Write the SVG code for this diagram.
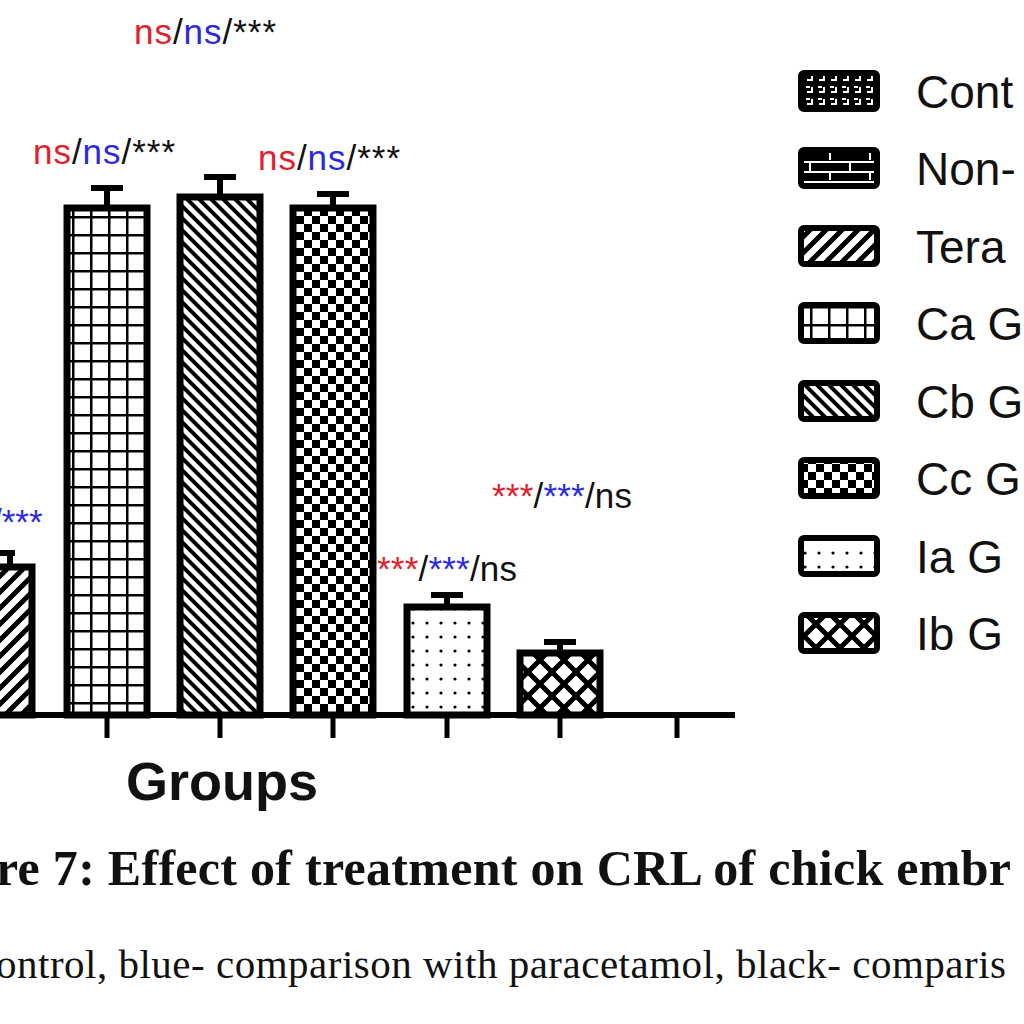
<svg xmlns="http://www.w3.org/2000/svg" width="1024" height="1024" viewBox="0 0 1024 1024">
<style>
.bar{stroke:#000;stroke-width:7}
.eb{stroke:#000;stroke-width:6;fill:none}
.lab{font-family:"Liberation Sans",Arial,sans-serif;font-size:35px}
.r{fill:#e0202a}.b{fill:#2a2ae0}.k{fill:#111}
.leg{font-family:"Liberation Sans",Arial,sans-serif;font-size:46px;fill:#111}
.lb{stroke:#000;stroke-width:6}
</style>
<defs>
<pattern id="grid" width="18" height="18" patternUnits="userSpaceOnUse"><rect width="18" height="18" fill="#fff"/><path d="M0 0H18M0 0V18" stroke="#000" stroke-width="5"/></pattern>
<pattern id="diag" width="12" height="12" patternUnits="userSpaceOnUse"><rect width="12" height="12" fill="#fff"/><path d="M-3 -3L15 15M-3 9L3 15M9 -3L15 3" stroke="#000" stroke-width="4"/></pattern>
<pattern id="check" width="16" height="16" patternUnits="userSpaceOnUse"><rect width="16" height="16" fill="#fff"/><rect width="8" height="8" fill="#000"/><rect x="8" y="8" width="8" height="8" fill="#000"/></pattern>
<pattern id="dots" width="14" height="14" patternUnits="userSpaceOnUse"><rect width="14" height="14" fill="#fff"/><circle cx="7" cy="7" r="1.6" fill="#000"/></pattern>
<pattern id="xx" width="24" height="24" patternUnits="userSpaceOnUse"><rect width="24" height="24" fill="#fff"/><path d="M0 0L24 24M24 0L0 24" stroke="#000" stroke-width="5"/></pattern>
<pattern id="tera" width="16" height="16" patternUnits="userSpaceOnUse"><rect width="16" height="16" fill="#fff"/><path d="M-4 4L4 -4M0 16L16 0M12 20L20 12" stroke="#000" stroke-width="5"/></pattern>
<pattern id="brick" width="40" height="20" patternUnits="userSpaceOnUse"><rect width="40" height="20" fill="#000"/><path d="M0 2H40M0 12H40M10 2V12M30 12V20" stroke="#fff" stroke-width="2"/></pattern>
<pattern id="ctrl" width="12" height="12" patternUnits="userSpaceOnUse"><rect width="12" height="12" fill="#000"/><path d="M2 3H6M8 3V7M3 8H9" stroke="#fff" stroke-width="2"/></pattern>
</defs>
<rect width="1024" height="1024" fill="#fff"/>
<g id="bars">
<rect class="bar" x="-10" y="567" width="42" height="148" fill="url(#tera)"/>
<rect class="bar" x="67" y="208" width="80" height="507" fill="url(#grid)"/>
<rect class="bar" x="180" y="197" width="80" height="518" fill="url(#diag)"/>
<rect class="bar" x="293" y="208" width="80" height="507" fill="url(#check)"/>
<rect class="bar" x="407" y="607" width="80" height="108" fill="url(#dots)"/>
<rect class="bar" x="520" y="653" width="80" height="62" fill="url(#xx)"/>
</g>
<g id="errorbars">
<path class="eb" d="M0 553H15M10 553V567"/>
<path class="eb" d="M91 188H123M107 188V208"/>
<path class="eb" d="M204 177H236M220 177V197"/>
<path class="eb" d="M317 194H349M333 194V208"/>
<path class="eb" d="M431 595H463M447 595V607"/>
<path class="eb" d="M544 642H576M560 642V653"/>
</g>
<g id="axis">
<path d="M0 715H735" stroke="#000" stroke-width="6"/>
<path d="M107 715V738M220 715V738M333 715V738M447 715V738M560 715V738M677 715V738" stroke="#000" stroke-width="5"/>
<text x="222" y="800" text-anchor="middle" font-family="Liberation Sans,Arial,sans-serif" font-weight="bold" font-size="54" fill="#111">Groups</text>
</g>
<g id="labels" class="lab">
<text x="134" y="44" textLength="142"><tspan class="r">ns</tspan><tspan class="k">/</tspan><tspan class="b">ns</tspan><tspan class="k">/***</tspan></text>
<text x="33" y="164" textLength="142"><tspan class="r">ns</tspan><tspan class="k">/</tspan><tspan class="b">ns</tspan><tspan class="k">/***</tspan></text>
<text x="258" y="170" textLength="142"><tspan class="r">ns</tspan><tspan class="k">/</tspan><tspan class="b">ns</tspan><tspan class="k">/***</tspan></text>
<text x="377" y="581" textLength="140"><tspan class="r">***</tspan><tspan class="k">/</tspan><tspan class="b">***</tspan><tspan class="k">/ns</tspan></text>
<text x="492" y="508" textLength="140"><tspan class="r">***</tspan><tspan class="k">/</tspan><tspan class="b">***</tspan><tspan class="k">/ns</tspan></text>
<text x="-8" y="534"><tspan class="b">/***</tspan></text>
</g>
<g id="legend">
<rect class="lb" x="801" y="73" width="76" height="36" rx="3" fill="url(#ctrl)"/><text class="leg" x="916" y="108">Cont</text>
<rect class="lb" x="801" y="150" width="76" height="36" rx="3" fill="url(#brick)"/><text class="leg" x="916" y="185">Non-</text>
<rect class="lb" x="801" y="228" width="76" height="36" rx="3" fill="url(#tera)"/><text class="leg" x="916" y="263">Tera</text>
<rect class="lb" x="801" y="305" width="76" height="36" rx="3" fill="url(#grid)"/><text class="leg" x="916" y="340">Ca G</text>
<rect class="lb" x="801" y="383" width="76" height="36" rx="3" fill="url(#diag)"/><text class="leg" x="916" y="418">Cb G</text>
<rect class="lb" x="801" y="460" width="76" height="36" rx="3" fill="url(#check)"/><text class="leg" x="916" y="495">Cc G</text>
<rect class="lb" x="801" y="538" width="76" height="36" rx="3" fill="url(#dots)"/><text class="leg" x="916" y="573">Ia G</text>
<rect class="lb" x="801" y="615" width="76" height="36" rx="3" fill="url(#xx)"/><text class="leg" x="916" y="650">Ib G</text>
</g>
<g id="caption">
<text x="-4" y="885" textLength="1015" font-family="Liberation Serif,Times New Roman,serif" font-weight="bold" font-size="50" fill="#111">re 7: Effect of treatment on CRL of chick embr</text>
<text x="-4" y="978" textLength="1010" font-family="Liberation Serif,Times New Roman,serif" font-size="41" fill="#111">ontrol, blue- comparison with paracetamol, black- comparis</text>
</g>
</svg>
